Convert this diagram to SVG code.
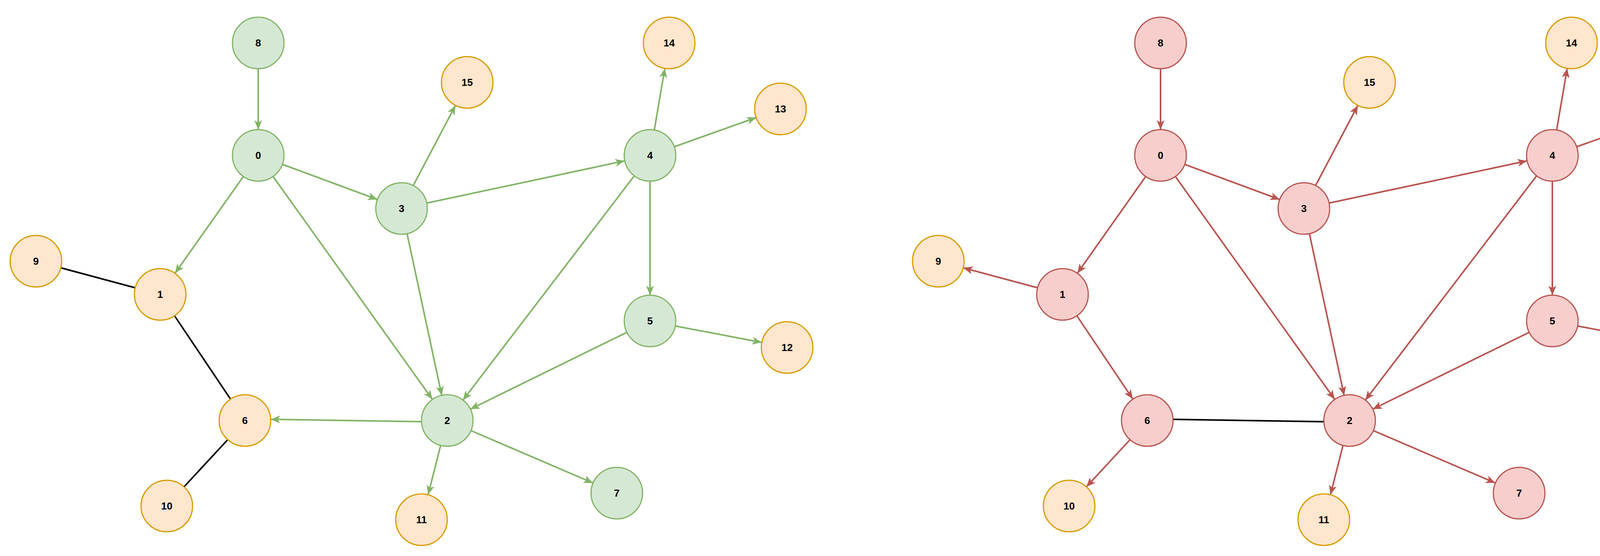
<svg xmlns="http://www.w3.org/2000/svg" width="4415" height="1424" viewBox="0 0 4415 1424">
<style>
.n circle{stroke-width:3}
.g circle{fill:#d5e8d4;stroke:#82b366}
.o circle{fill:#ffe6cc;stroke:#d79b00}
.r circle{fill:#f8cecc;stroke:#b85450}
text{font-family:"Liberation Sans",Arial,sans-serif;font-weight:bold;font-size:26px;fill:#000;text-anchor:middle;dominant-baseline:central}
.eg line{stroke:#82b366;stroke-width:4;marker-end:url(#ag)}
.er line{stroke:#b85450;stroke-width:4;marker-end:url(#ar)}
line.k{stroke:#000;stroke-width:4;marker-end:none}
</style>
<defs>
<marker id="ag" markerUnits="userSpaceOnUse" markerWidth="30" markerHeight="30" viewBox="0 0 30 30" refX="28" refY="15" orient="auto"><path d="M28 15 L4 5 L10 15 L4 25 Z" fill="#82b366"/></marker>
<marker id="ar" markerUnits="userSpaceOnUse" markerWidth="30" markerHeight="30" viewBox="0 0 30 30" refX="28" refY="15" orient="auto"><path d="M28 15 L4 5 L10 15 L4 25 Z" fill="#b85450"/></marker>
</defs>
<g id="left">
<g id="edges-left" class="eg">
<line x1="661" y1="176" x2="661" y2="332"/>
<line x1="723" y1="421" x2="966" y2="511"/>
<line x1="623" y1="452" x2="448" y2="700"/>
<line x1="699" y1="452" x2="1107" y2="1023"/>
<line x1="1058" y1="475" x2="1166" y2="270"/>
<line x1="1093" y1="520" x2="1599" y2="412"/>
<line x1="1042" y1="598" x2="1131" y2="1013"/>
<line x1="1675" y1="333" x2="1702" y2="175"/>
<line x1="1726" y1="376" x2="1936" y2="301"/>
<line x1="1664" y1="464" x2="1664" y2="756"/>
<line x1="1624" y1="450" x2="1185" y2="1025"/>
<line x1="1729" y1="835" x2="1950" y2="877"/>
<line x1="1605" y1="851" x2="1204" y2="1048"/>
<line x1="1079" y1="1080" x2="693" y2="1074"/>
<line x1="1128" y1="1141" x2="1096" y2="1267"/>
<line x1="1206" y1="1103" x2="1518" y2="1237"/>
<line class="k" x1="156" y1="686" x2="346" y2="737"/>
<line class="k" x1="447" y1="809" x2="590" y2="1022"/>
<line class="k" x1="583" y1="1126" x2="471" y2="1247"/>
</g>
<g id="L8" class="n g"><circle cx="661" cy="110" r="66"/><text x="661" y="110">8</text></g>
<g id="L0" class="n g"><circle cx="661" cy="398" r="66"/><text x="661" y="398">0</text></g>
<g id="L3" class="n g"><circle cx="1028" cy="534" r="66"/><text x="1028" y="534">3</text></g>
<g id="L15" class="n o"><circle cx="1196" cy="211" r="66"/><text x="1196" y="211">15</text></g>
<g id="L14" class="n o"><circle cx="1713" cy="110" r="66"/><text x="1713" y="110">14</text></g>
<g id="L13" class="n o"><circle cx="1998" cy="279" r="66"/><text x="1998" y="279">13</text></g>
<g id="L4" class="n g"><circle cx="1664" cy="398" r="66"/><text x="1664" y="398">4</text></g>
<g id="L9" class="n o"><circle cx="92" cy="669" r="66"/><text x="92" y="669">9</text></g>
<g id="L1" class="n o"><circle cx="410" cy="754" r="66"/><text x="410" y="754">1</text></g>
<g id="L5" class="n g"><circle cx="1664" cy="822" r="66"/><text x="1664" y="822">5</text></g>
<g id="L12" class="n o"><circle cx="2015" cy="890" r="66"/><text x="2015" y="890">12</text></g>
<g id="L6" class="n o"><circle cx="627" cy="1077" r="66"/><text x="627" y="1077">6</text></g>
<g id="L2" class="n g"><circle cx="1145" cy="1077" r="66"/><text x="1145" y="1077">2</text></g>
<g id="L10" class="n o"><circle cx="427" cy="1296" r="66"/><text x="427" y="1296">10</text></g>
<g id="L11" class="n o"><circle cx="1079" cy="1331" r="66"/><text x="1079" y="1331">11</text></g>
<g id="L7" class="n g"><circle cx="1579" cy="1263" r="66"/><text x="1579" y="1263">7</text></g>
</g>
<g id="right" transform="translate(2310,0)">
<g id="edges-right" class="er">
<line x1="661" y1="176" x2="661" y2="332"/>
<line x1="723" y1="421" x2="966" y2="511"/>
<line x1="623" y1="452" x2="448" y2="700"/>
<line x1="699" y1="452" x2="1107" y2="1023"/>
<line x1="1058" y1="475" x2="1166" y2="270"/>
<line x1="1093" y1="520" x2="1599" y2="412"/>
<line x1="1042" y1="598" x2="1131" y2="1013"/>
<line x1="1675" y1="333" x2="1702" y2="175"/>
<line x1="1726" y1="376" x2="1936" y2="301"/>
<line x1="1664" y1="464" x2="1664" y2="756"/>
<line x1="1624" y1="450" x2="1185" y2="1025"/>
<line x1="1729" y1="835" x2="1950" y2="877"/>
<line x1="1605" y1="851" x2="1204" y2="1048"/>
<line x1="1128" y1="1141" x2="1096" y2="1267"/>
<line x1="1206" y1="1103" x2="1518" y2="1237"/>
<line x1="346" y1="737" x2="156" y2="686"/>
<line x1="447" y1="809" x2="590" y2="1022"/>
<line x1="583" y1="1126" x2="471" y2="1247"/>
<line class="k" x1="693" y1="1074" x2="1079" y2="1080"/>
</g>
<g id="R8" class="n r"><circle cx="661" cy="110" r="66"/><text x="661" y="110">8</text></g>
<g id="R0" class="n r"><circle cx="661" cy="398" r="66"/><text x="661" y="398">0</text></g>
<g id="R3" class="n r"><circle cx="1028" cy="534" r="66"/><text x="1028" y="534">3</text></g>
<g id="R15" class="n o"><circle cx="1196" cy="211" r="66"/><text x="1196" y="211">15</text></g>
<g id="R14" class="n o"><circle cx="1713" cy="110" r="66"/><text x="1713" y="110">14</text></g>
<g id="R13" class="n o"><circle cx="1998" cy="279" r="66"/><text x="1998" y="279">13</text></g>
<g id="R4" class="n r"><circle cx="1664" cy="398" r="66"/><text x="1664" y="398">4</text></g>
<g id="R9" class="n o"><circle cx="92" cy="669" r="66"/><text x="92" y="669">9</text></g>
<g id="R1" class="n r"><circle cx="410" cy="754" r="66"/><text x="410" y="754">1</text></g>
<g id="R5" class="n r"><circle cx="1664" cy="822" r="66"/><text x="1664" y="822">5</text></g>
<g id="R12" class="n o"><circle cx="2015" cy="890" r="66"/><text x="2015" y="890">12</text></g>
<g id="R6" class="n r"><circle cx="627" cy="1077" r="66"/><text x="627" y="1077">6</text></g>
<g id="R2" class="n r"><circle cx="1145" cy="1077" r="66"/><text x="1145" y="1077">2</text></g>
<g id="R10" class="n o"><circle cx="427" cy="1296" r="66"/><text x="427" y="1296">10</text></g>
<g id="R11" class="n o"><circle cx="1079" cy="1331" r="66"/><text x="1079" y="1331">11</text></g>
<g id="R7" class="n r"><circle cx="1579" cy="1263" r="66"/><text x="1579" y="1263">7</text></g>
</g>
</svg>
